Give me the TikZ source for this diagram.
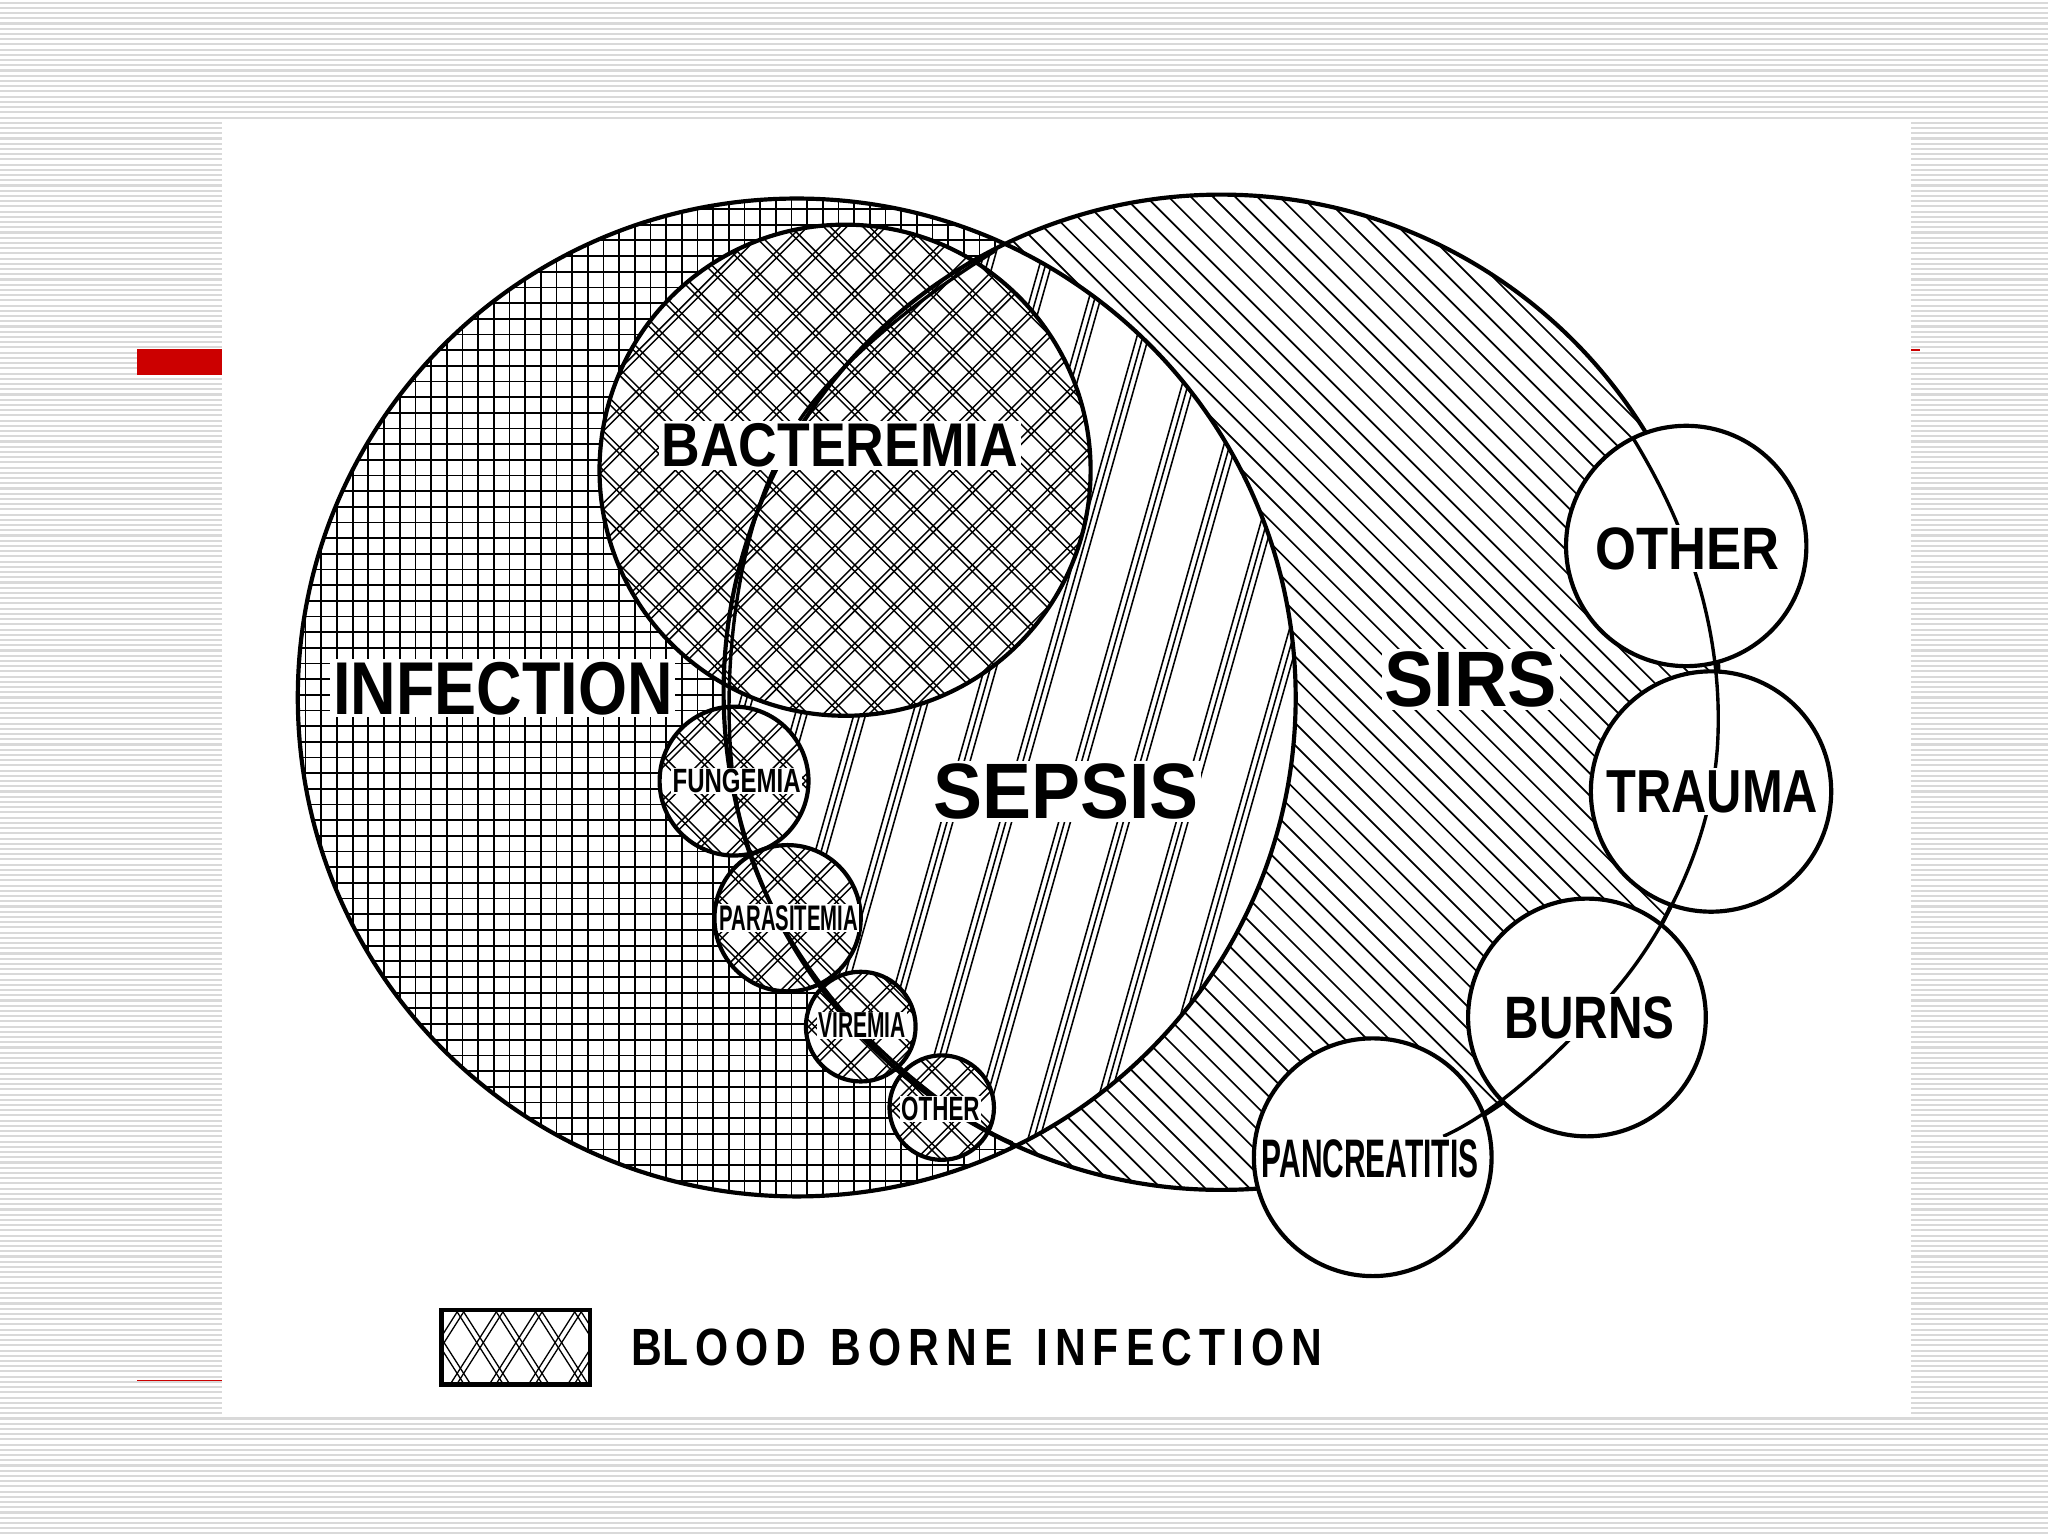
\documentclass[tikz,border=0pt]{standalone}
\usepackage{fontspec}
\setmainfont{Liberation Sans}
\usepackage{graphicx}
\tikzset{
  lab/.style={fill=white,inner sep=2pt},
  ring/.style={line width=3.2pt},
  hat/.style={line width=1.3pt},
  chain/.style={line width=2.6pt}
}
\newcommand{\lb}[3]{\resizebox{#1pt}{#2pt}{\bfseries #3}}
\begin{document}
\begin{tikzpicture}[x=1pt,y=-1pt]
\useasboundingbox (0,0) rectangle (1568,1176);
\fill[white] (0,0) rectangle (1568,1176);
\foreach \y in {2,6,...,1176} \draw[gray!30,line width=1.6pt] (0,\y) -- (1568,\y);
\fill[red!80!black] (105,267) rectangle (170,287);
\draw[red!80!black,line width=1pt] (105,1057) -- (170,1057);
\draw[red!80!black,line width=1pt] (1463,268) -- (1470,268);
\fill[white] (170,92) rectangle (1463,1083);
% SIRS hatch
\begin{scope}
\clip (935,530) circle (381);
\foreach \k in {-800,-783,...,800} \draw[hat] (935+\k-450,80) -- (935+\k+450,980);
\end{scope}
% infection grid
\begin{scope}
\clip (610,534) circle (382);
\fill[white] (200,140) rectangle (1000,930);
\foreach \x in {222,234,...,1000} \draw[line width=1.3pt] (\x,140) -- (\x,930);
\foreach \y in {148,160,...,930} \draw[line width=1.3pt] (220,\y) -- (1000,\y);
\end{scope}
% sepsis stripes
\begin{scope}
\clip (935,530) circle (381);
\clip (610,534) circle (382);
\fill[white] (500,100) rectangle (1000,950);
\foreach \x in {300,345,...,1200} {
  \foreach \o in {0,4.5,9} \draw[line width=1.2pt] (\x+\o-120,950) -- (\x+\o+120,100);
}
\end{scope}
% blood borne crosshatch
\newcommand{\xhatch}[3]{%
\begin{scope}
\clip (#1,#2) circle (#3);
\fill[white] (#1,#2) circle (#3);
\foreach \k in {-700,-670,...,700} {
 \foreach \o in {0,5} {
  \draw[line width=1.1pt] (#1+\k+\o-250,#2-250) -- (#1+\k+\o+250,#2+250);
  \draw[line width=1.1pt] (#1+\k+\o+250,#2-250) -- (#1+\k+\o-250,#2+250);
 }}
\end{scope}}
\xhatch{647}{360}{188}
\xhatch{562}{598}{57}
\xhatch{603}{703}{56}
\xhatch{659}{786}{42}
\xhatch{721}{848}{40}
% outlines
\draw[ring] (610,534) circle (382);
\draw[ring] (935,530) circle (381);
\draw[ring] (647,360) circle (188);
\draw[ring] (562,598) circle (57);
\draw[ring] (603,703) circle (56);
\draw[ring] (659,786) circle (42);
\draw[ring] (721,848) circle (40);
\foreach \cx/\cy/\r in {1291/418/92,1310/606/92,1215/779/91,1051/886/91}
  \draw[ring,fill=white] (\cx,\cy) circle (\r);
% chains
\draw[chain] (762,192) .. controls (700,230) and (640,280) .. (612,322);
\draw[chain] (592,360) .. controls (560,430) and (550,540) .. (565,620) .. controls (575,680) and (620,750) .. (660,790) .. controls (700,830) and (740,860) .. (775,875);
\draw[chain] (1250,335) .. controls (1290,400) and (1320,480) .. (1315,570) .. controls (1310,650) and (1270,720) .. (1235,760) .. controls (1200,800) and (1150,850) .. (1105,870);
% labels
\node[lab] (inf) at (385,527) {\lb{260}{40}{INFECTION}};
\node[lab] (bac) at (643,341) {\lb{273}{33}{BACTEREMIA}};
\node[lab] (sep) at (816,606) {\lb{203}{42}{SEPSIS}};
\node[lab] (sirs) at (1126,520) {\lb{132}{42}{SIRS}};
\node[lab] (oth) at (1292,420) {\lb{141}{32}{OTHER}};
\node[lab] (tra) at (1311,606) {\lb{162}{32}{TRAUMA}};
\node[lab] (bur) at (1217,779) {\lb{130}{32}{BURNS}};
\node[lab] (pan) at (1049,887) {\lb{166}{29}{PANCREATITIS}};
\node[lab,inner sep=1pt] (fun) at (564,598) {\lb{98}{18}{FUNGEMIA}};
\node[lab,inner sep=1pt] (par) at (604,703) {\lb{106}{19}{PARASITEMIA}};
\node[lab,inner sep=1pt] (vir) at (660,785) {\lb{67}{19}{VIREMIA}};
\node[lab,inner sep=1pt] (oths) at (720,849) {\lb{60}{18}{OTHER}};
% legend
\begin{scope}
\clip (338,1003) rectangle (452,1060);
\foreach \k in {-100,-70,...,500} {
 \foreach \o in {0,5} {
  \draw[line width=1pt] (\k+\o+250,1003-30) -- (\k+\o+350,1060+70);
  \draw[line width=1pt] (\k+\o+350,1003-30) -- (\k+\o+250,1060+70);
 }}
\end{scope}
\draw[ring] (338,1003) rectangle (452,1060);
\node (leg) at (748,1032) {\lb{529}{28}{BL\,O\,O\,D\ \ B\,O\,R\,N\,E\ \ I\,N\,F\,E\,C\,T\,I\,O\,N}};
\end{tikzpicture}
\end{document}
